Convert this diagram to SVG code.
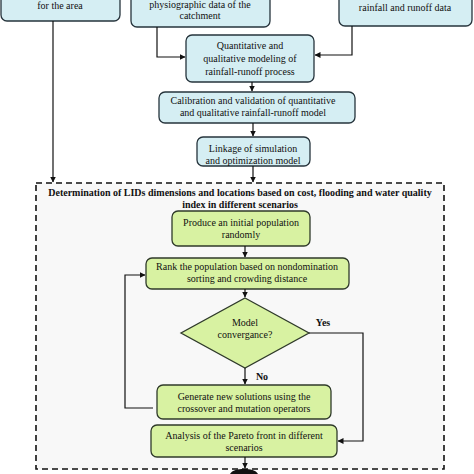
<svg xmlns="http://www.w3.org/2000/svg" width="474" height="474" viewBox="0 0 474 474">
<defs>
<style>
.blue{fill:#d5eef3;stroke:#26343c;stroke-width:1.3}
.green{fill:#d8f2a2;stroke:#2f3a2a;stroke-width:1.3}
.t{font-family:"Liberation Serif","Times New Roman",serif;font-size:10px;fill:#111;text-anchor:middle}
.b{font-weight:bold}
.ln{fill:none;stroke:#111;stroke-width:1.2}
</style>
<marker id="ah" markerWidth="6" markerHeight="6" refX="5.5" refY="3" orient="auto" markerUnits="userSpaceOnUse">
<path d="M0,0 L6,3 L0,6 z" fill="#111"/>
</marker>
</defs>
<rect width="474" height="474" fill="#ffffff"/>
<rect id="frame" x="36" y="183" width="408" height="286" fill="#f8f8f8" stroke="#111" stroke-width="1.6" stroke-dasharray="6,4"/>
<g id="n_area">
<rect class="blue" x="1" y="-30" width="119" height="51" rx="6"/>
<text class="t" x="60" y="9">for the area</text>
</g>
<g id="n_physio">
<rect class="blue" x="131" y="-30" width="139" height="57" rx="6"/>
<text class="t" x="200" y="8">physiographic data of the</text>
<text class="t" x="200" y="19">catchment</text>
</g>
<g id="n_rain">
<rect class="blue" x="339" y="-30" width="133" height="56" rx="6"/>
<text class="t" x="405" y="11">rainfall and runoff data</text>
</g>
<g id="n_model">
<rect class="blue" x="186" y="35" width="128" height="47" rx="6"/>
<text class="t" x="250" y="49">Quantitative and</text>
<text class="t" x="250" y="62">qualitative modeling of</text>
<text class="t" x="250" y="75">rainfall-runoff process</text>
</g>
<g id="n_calib">
<rect class="blue" x="159" y="92" width="196" height="31" rx="6"/>
<text class="t" x="253" y="104">Calibration and validation of quantitative</text>
<text class="t" x="253" y="116">and qualitative rainfall-runoff model</text>
</g>
<g id="n_link">
<rect class="blue" x="197" y="137" width="113" height="29" rx="6"/>
<text class="t" x="253" y="152">Linkage of simulation</text>
<text class="t" x="253" y="164">and optimization model</text>
</g>
<g id="n_title">
<text class="t b" x="240" y="196">Determination of LIDs dimensions and locations based on cost, flooding and water quality</text>
<text class="t b" x="240" y="208">index in different scenarios</text>
</g>
<g id="n_init">
<rect class="green" x="172" y="211" width="138" height="35" rx="6"/>
<text class="t" x="241" y="226">Produce an initial population</text>
<text class="t" x="241" y="238">randomly</text>
</g>
<g id="n_rank">
<rect class="green" x="146" y="258" width="203" height="31" rx="6"/>
<text class="t" x="247" y="270">Rank the population based on nondomination</text>
<text class="t" x="247" y="282">sorting and crowding distance</text>
</g>
<g id="n_conv">
<polygon class="green" points="245,298 309,333 245,368 181,333"/>
<text class="t" x="245" y="326">Model</text>
<text class="t" x="245" y="338">convergance?</text>
</g>
<g id="n_gen">
<rect class="green" x="157" y="385" width="174" height="34" rx="6"/>
<text class="t" x="244" y="400">Generate new solutions using the</text>
<text class="t" x="244" y="412">crossover and mutation operators</text>
</g>
<g id="n_pareto">
<rect class="green" x="151" y="425" width="186" height="32" rx="6"/>
<text class="t" x="244" y="439">Analysis of the Pareto front in different</text>
<text class="t" x="244" y="451">scenarios</text>
</g>
<g id="n_next">
<path d="M230,474 C232,470 238,469 244,469 C250,469 256,470 258,474 z" fill="#111"/>
</g>
<g id="connectors">
<path class="ln" d="M53,21 V182" marker-end="url(#ah)"/>
<path class="ln" d="M157,27 V57 H185" marker-end="url(#ah)"/>
<path class="ln" d="M352,26 V55 H315" marker-end="url(#ah)"/>
<path class="ln" d="M252,82 V91" marker-end="url(#ah)"/>
<path class="ln" d="M253,123 V136" marker-end="url(#ah)"/>
<path class="ln" d="M253,166 V182" marker-end="url(#ah)"/>
<path class="ln" d="M245,246 V257" marker-end="url(#ah)"/>
<path class="ln" d="M245,289 V297" marker-end="url(#ah)"/>
<path class="ln" d="M245,368 V384" marker-end="url(#ah)"/>
<path class="ln" d="M309,333 H363 V441 H338" marker-end="url(#ah)"/>
<path class="ln" d="M153,408 H125 V275 H145" marker-end="url(#ah)"/>
<path class="ln" d="M245,457 V468" marker-end="url(#ah)"/>
<text class="t b" x="323" y="326">Yes</text>
<text class="t b" x="262" y="380">No</text>
</g>
</svg>
